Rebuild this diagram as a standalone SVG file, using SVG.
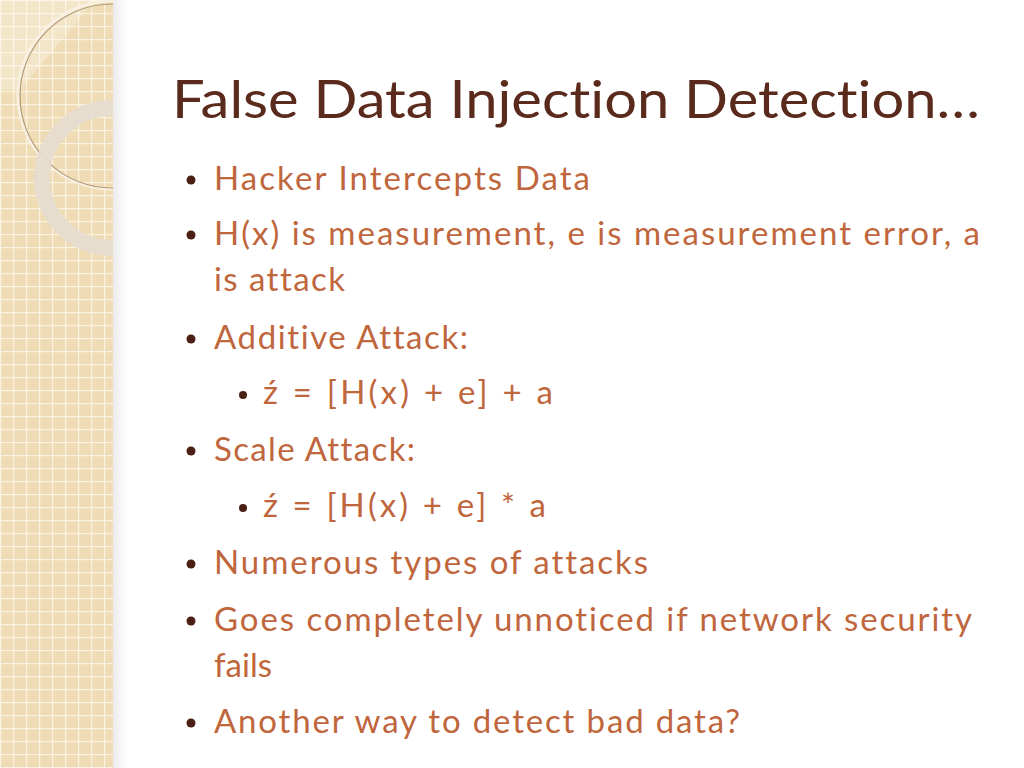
<svg xmlns="http://www.w3.org/2000/svg" width="1024" height="768" viewBox="0 0 1024 768">
<defs>
<pattern id="grid" width="13" height="13" patternUnits="userSpaceOnUse">
<rect width="13" height="13" fill="#efdcb4"/>
<path d="M0 0.5H13M0.5 0V13" stroke="#fbf3e2" stroke-width="1.5"/>
</pattern>
<linearGradient id="sh" x1="0" x2="1"><stop offset="0" stop-color="#000" stop-opacity="0.08"/><stop offset="1" stop-color="#000" stop-opacity="0"/></linearGradient>
<clipPath id="band"><rect width="113" height="768"/></clipPath>
</defs>
<style>
text{font-variant-ligatures:none}
.t{font-family:Lato,"Open Sans",sans-serif;font-size:33px;fill:#c0663d}
.b{fill:#4a2015}
</style>
<rect width="1024" height="768" fill="#fff"/>
<g id="band-deco">
<rect width="113" height="768" fill="url(#grid)"/>
<g clip-path="url(#band)">
<path d="M0 0H95L20 90H0Z" fill="#fff" opacity="0.25"/>
<circle cx="112" cy="95" r="94" fill="none" stroke="#f8f0e0" stroke-width="3"/>
<circle cx="112" cy="96" r="92" fill="none" stroke="#b49a78" stroke-width="1.2"/>
<circle cx="112" cy="178" r="70" fill="none" stroke="#e4ddd0" stroke-width="16" opacity="0.9"/>
</g>
<rect x="113" width="14" height="768" fill="url(#sh)"/>
</g>
<text id="title" x="172" y="118" font-family="Lato,'Open Sans',sans-serif" font-size="52" fill="#5a2a1c" textLength="808" lengthAdjust="spacingAndGlyphs">False Data Injection Detection…</text>
<g id="bullets">
<circle class="b" cx="191" cy="180" r="4.5"/><text class="t" x="214" y="190" textLength="376">Hacker Intercepts Data</text>
<circle class="b" cx="191" cy="235" r="4.5"/><text class="t" x="214" y="245" textLength="766">H(x) is measurement, e is measurement error, a</text>
<text class="t" x="214" y="291" textLength="131">is attack</text>
<circle class="b" cx="191" cy="339" r="4.5"/><text class="t" x="214" y="349" textLength="254">Additive Attack:</text>
<circle class="b" cx="243" cy="395" r="4"/><text class="t" x="263" y="404" textLength="290">ź = [H(x) + e] + a</text>
<circle class="b" cx="191" cy="451" r="4.5"/><text class="t" x="214" y="461" textLength="201">Scale Attack:</text>
<circle class="b" cx="243" cy="508" r="4"/><text class="t" x="263" y="517" textLength="283">ź = [H(x) + e] * a</text>
<circle class="b" cx="191" cy="564" r="4.5"/><text class="t" x="214" y="574" textLength="434">Numerous types of attacks</text>
<circle class="b" cx="191" cy="621" r="4.5"/><text class="t" x="214" y="631" textLength="758">Goes completely unnoticed if network security</text>
<text class="t" x="214" y="677" textLength="58">fails</text>
<circle class="b" cx="191" cy="723" r="4.5"/><text class="t" x="214" y="733" textLength="526">Another way to detect bad data?</text>
</g>
</svg>
